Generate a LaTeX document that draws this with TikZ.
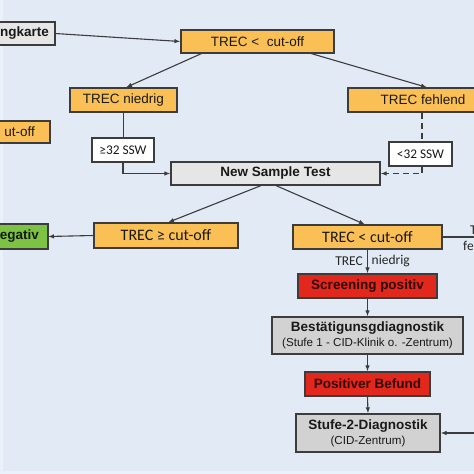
\documentclass[tikz,border=0pt]{standalone}
\usepackage{fontspec}
\setmainfont{Liberation Sans}
\newfontfamily\calfont{Carlito}
\usetikzlibrary{arrows.meta,calc}
\definecolor{bgblue}{HTML}{E2EBF5}
\definecolor{bgstrip}{HTML}{EAF1F8}
\definecolor{orfill}{HTML}{FBC055}
\definecolor{lgray}{HTML}{E6E6E6}
\definecolor{mgray}{HTML}{D2D2D2}
\definecolor{redfill}{HTML}{E2281C}
\definecolor{grnfill}{HTML}{7CC243}
\definecolor{edge}{HTML}{3C3C3C}
\definecolor{redtxt}{HTML}{2E0905}
\newcommand\fA{\fontsize{13.5pt}{16pt}\selectfont}
\newcommand\fB{\fontsize{11.6pt}{14pt}\selectfont}
\newcommand\fC{\fontsize{16pt}{18pt}\selectfont}
\newcommand\fD{\fontsize{13.3pt}{16pt}\selectfont}
\tikzset{
  box/.style={draw=edge, line width=1.2pt, inner sep=0pt, minimum height=24pt, text=black!90, font=\fA},
  orbox/.style={box, fill=orfill},
  graybox/.style={box, fill=lgray, font=\fA\bfseries},
  midbox/.style={box, fill=mgray, align=center},
  redbox/.style={box, fill=redfill, text=redtxt, font=\fA\bfseries},
  whbox/.style={box, fill=white, font=\calfont\fD},
  edgebox/.style={draw=edge, line width=1.2pt},
  txt/.style={inner ysep=0pt, text=black!90},
  arr/.style={draw=edge, line width=1.1pt, -{Latex[length=6pt,width=4.5pt]}},
  ln/.style={draw=edge, line width=1.1pt},
  dsh/.style={draw=edge, line width=1.1pt, dash pattern=on 6pt off 4pt},
  lbl/.style={inner sep=0pt, font=\calfont\fontsize{13.5pt}{16pt}\selectfont, text=black!85}
}
\begin{document}
\begin{tikzpicture}[x=1pt,y=-1pt]
\useasboundingbox (0,0) rectangle (474,474);
\clip (0,0) rectangle (474,474);
\fill[bgblue] (0,0) rectangle (474,474);
\fill[bgstrip] (0,471) rectangle (474,474);
\fill[bgstrip] (0,0) rectangle (3,474);

% boxes cut by the left edge
\filldraw[edgebox, fill=lgray] (-20,22) rectangle (55,45);
\filldraw[edgebox, fill=orfill] (-20,121) rectangle (50,143);
\filldraw[edgebox, fill=grnfill] (-20,224) rectangle (48,249);

% nodes
\node[txt, anchor=east, inner xsep=6pt, minimum height=23pt, font=\fA\bfseries] (card) at (55,33.5) {ngkarte};
\node[orbox, minimum width=153pt, minimum height=23pt] (top) at (257.5,41.5) {TREC <~ cut-off};
\node[orbox, minimum width=107pt] (nied) at (123.5,100) {TREC niedrig};
\node[orbox, minimum width=150pt] (fehl) at (423,100) {TREC fehlend};
\node[txt, anchor=east, inner xsep=15pt, minimum height=22pt, font=\fA] (cutl) at (50,132) {ut-off};
\node[whbox, minimum width=62pt] (ge32) at (123,150) {≥32 SSW};
\node[whbox, minimum width=63pt] (lt32) at (420.5,154) {<32 SSW};
\node[graybox, minimum width=209pt, minimum height=23pt] (nst) at (275.5,173.5) {New Sample Test};
\node[orbox, minimum width=144pt, minimum height=25pt, font=\calfont\fC] (gecut) at (166,235.5) {TREC ≥ cut-off};
\node[orbox, minimum width=149pt, font=\calfont\fC] (ltcut) at (367.5,237) {TREC < cut-off};
\node[txt, anchor=east, inner xsep=9pt, minimum height=25pt, font=\fA\bfseries] (neg) at (48,236.5) {egativ};
\node[redbox, minimum width=139pt] (scr) at (367.5,286) {Screening positiv};
\node[midbox, minimum width=191pt, minimum height=37pt] (best) at (367.5,335.5) {{\fA\bfseries Bestätigunsgdiagnostik}\\[-1pt]{\fB (Stufe 1 - CID-Klinik o. -Zentrum)}};
\node[redbox, minimum width=125pt] (pos) at (367.5,384) {Positiver Befund};
\node[midbox, minimum width=144pt, minimum height=38pt] (st2) at (368,433) {{\fA\bfseries Stufe-2-Diagnostik}\\[-1pt]{\fB (CID-Zentrum)}};

\node[lbl, anchor=east] (lt1) at (363,261) {TREC};
\node[lbl, anchor=west] (lt2) at (371.5,261) {niedrig};
\node[lbl] (rt1) at (484,230) {TREC};
\node[lbl] (rt2) at (484,246) {fehlend};

\coordinate (r1) at (480,237);
\coordinate (r2) at (480,433);

% connectors
\draw[arr] (card.east) -- (top.west);
\draw[arr] ($(top.south west)+(21,0)$) -- ($(nied.north)+(2.5,0)$);
\draw[arr] ($(top.south west)+(131,0)$) -- ($(fehl.north)+(4,0)$);
\draw[ln] (nied.south) -- (nied.south |- ge32.north);
\draw[arr] (ge32.south) |- (nst.west);
\draw[dsh] ($(fehl.south)+(-1,0)$) -- ($(fehl.south |- lt32.north)+(-1,0)$);
\draw[dsh, -{Latex[length=6pt,width=4.5pt]}] ($(lt32.south -| fehl.south)+(-1,0)$) |- (nst.east);
\draw[arr] ($(nst.south)+(-14.5,0)$) -- ($(gecut.north)+(2,0)$);
\draw[arr] ($(nst.south)+(0.5,0)$) -- ($(ltcut.north)+(-2.5,0)$);
\draw[arr] (gecut.west) -- (neg.east);
\draw[ln] (ltcut.east) -- (r1);
\draw[arr] (ltcut.south) -- (scr.north);
\draw[arr] (scr.south) -- (best.north);
\draw[arr] (best.south) -- (pos.north);
\draw[arr] (pos.south) -- (st2.north);
\draw[arr] (r2) -- (st2.east);
\end{tikzpicture}
\end{document}
